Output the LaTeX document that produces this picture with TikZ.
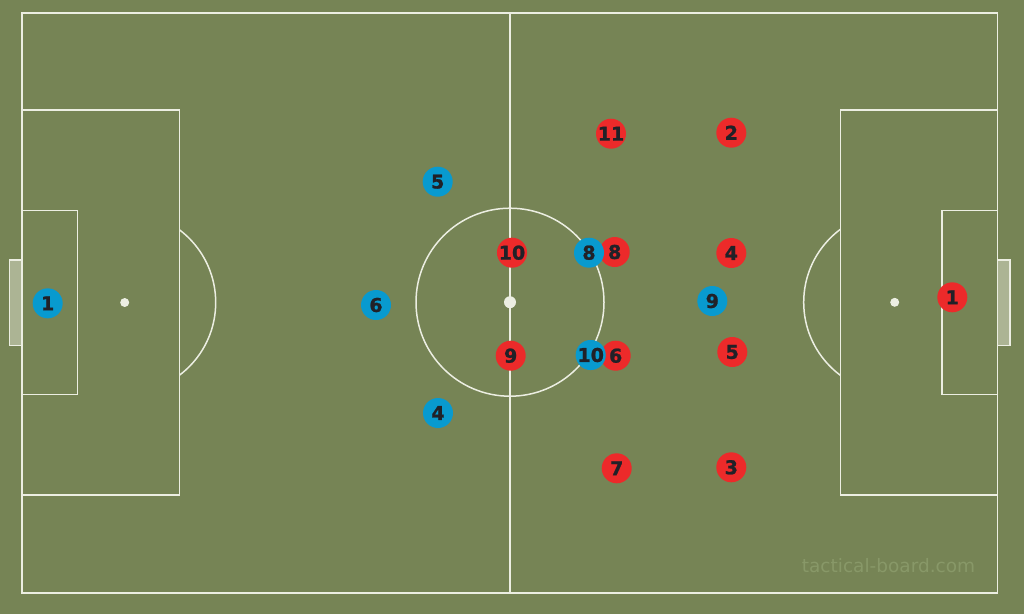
\documentclass[tikz,border=0pt]{standalone}
\usepackage{fontspec}
\setmainfont{DejaVu Sans}
\newfontfamily\numfont[FakeBold=1.2]{DejaVu Sans Bold}
\definecolor{grass}{RGB}{118,132,85}
\definecolor{chalk}{RGB}{236,238,226}
\definecolor{netfill}{RGB}{172,180,148}
\definecolor{home}{RGB}{8,154,207}
\definecolor{away}{RGB}{236,42,42}
\definecolor{shirtnum}{RGB}{33,33,40}
\definecolor{mark}{RGB}{136,152,104}
\begin{document}
\begin{tikzpicture}[x=1pt,y=-1pt,
   line/.style={draw=chalk,line width=1.5pt},
   blueman/.style={circle,fill=home,minimum size=30pt,inner sep=0pt,text=shirtnum,font=\numfont\fontsize{19}{19}\selectfont},
   redman/.style={blueman,fill=away}]
   \fill[grass] (0,0) rectangle (1024,614);
   \useasboundingbox (0,0) rectangle (1024,614);

   % pitch
   \draw[line] (22,13) rectangle (997.7,593);
   \draw[line] (510,13) -- (510,593);
   \draw[line] (510,302.2) circle[radius=94pt];
   \fill[chalk] (510,302.2) circle[radius=6pt];

   % left end
   \draw[line] (22,110) rectangle (179.3,495);
   \draw[line] (22,210.3) rectangle (77.7,394.5);
   \filldraw[fill=netfill,draw=chalk,line width=1.2pt] (9.7,260) rectangle (22,345.5);
   \fill[chalk] (124.7,302.5) circle[radius=4.5pt];
   \begin{scope}
      \clip (179.3,0) rectangle (300,614);
      \draw[line] (124.7,302.5) circle[radius=91pt];
   \end{scope}

   % right end
   \draw[line] (840.3,110) rectangle (997.7,495);
   \draw[line] (942,210.3) rectangle (997.7,394.5);
   \filldraw[fill=netfill,draw=chalk,line width=1.2pt] (997.7,260) rectangle (1010,345.5);
   \fill[chalk] (894.7,302.3) circle[radius=4.5pt];
   \begin{scope}
      \clip (700,0) rectangle (840.3,614);
      \draw[line] (894.7,302.3) circle[radius=91pt];
   \end{scope}

   % red team
   \node[redman] (r1) at (952.3,297.3) {1};
   \node[redman] (r2) at (731.3,132.7) {2};
   \node[redman] (r3) at (731.3,467.3) {3};
   \node[redman] (r4) at (731.3,253) {4};
   \node[redman] (r5) at (732.3,352) {5};
   \node[redman] (r6) at (615.7,355.7) {6};
   \node[redman] (r7) at (616.7,468.3) {7};
   \node[redman] (r8) at (614.7,252) {8};
   \node[redman] (r9) at (510.7,355.7) {9};
   \node[redman] (r10) at (512,252.7) {10};
   \node[redman] (r11) at (611,133.7) {11};

   % blue team
   \node[blueman] (b1) at (47.7,303.3) {1};
   \node[blueman] (b4) at (438,413) {4};
   \node[blueman] (b5) at (437.7,181.7) {5};
   \node[blueman] (b6) at (376,305) {6};
   \node[blueman] (b8) at (589,252.7) {8};
   \node[blueman] (b9) at (712.3,301) {9};
   \node[blueman] (b10) at (590.7,355) {10};

   \node[text=mark,font=\fontsize{18.5}{18.5}\selectfont] (site) at (888.5,566) {tactical-board.com};
\end{tikzpicture}
\end{document}
